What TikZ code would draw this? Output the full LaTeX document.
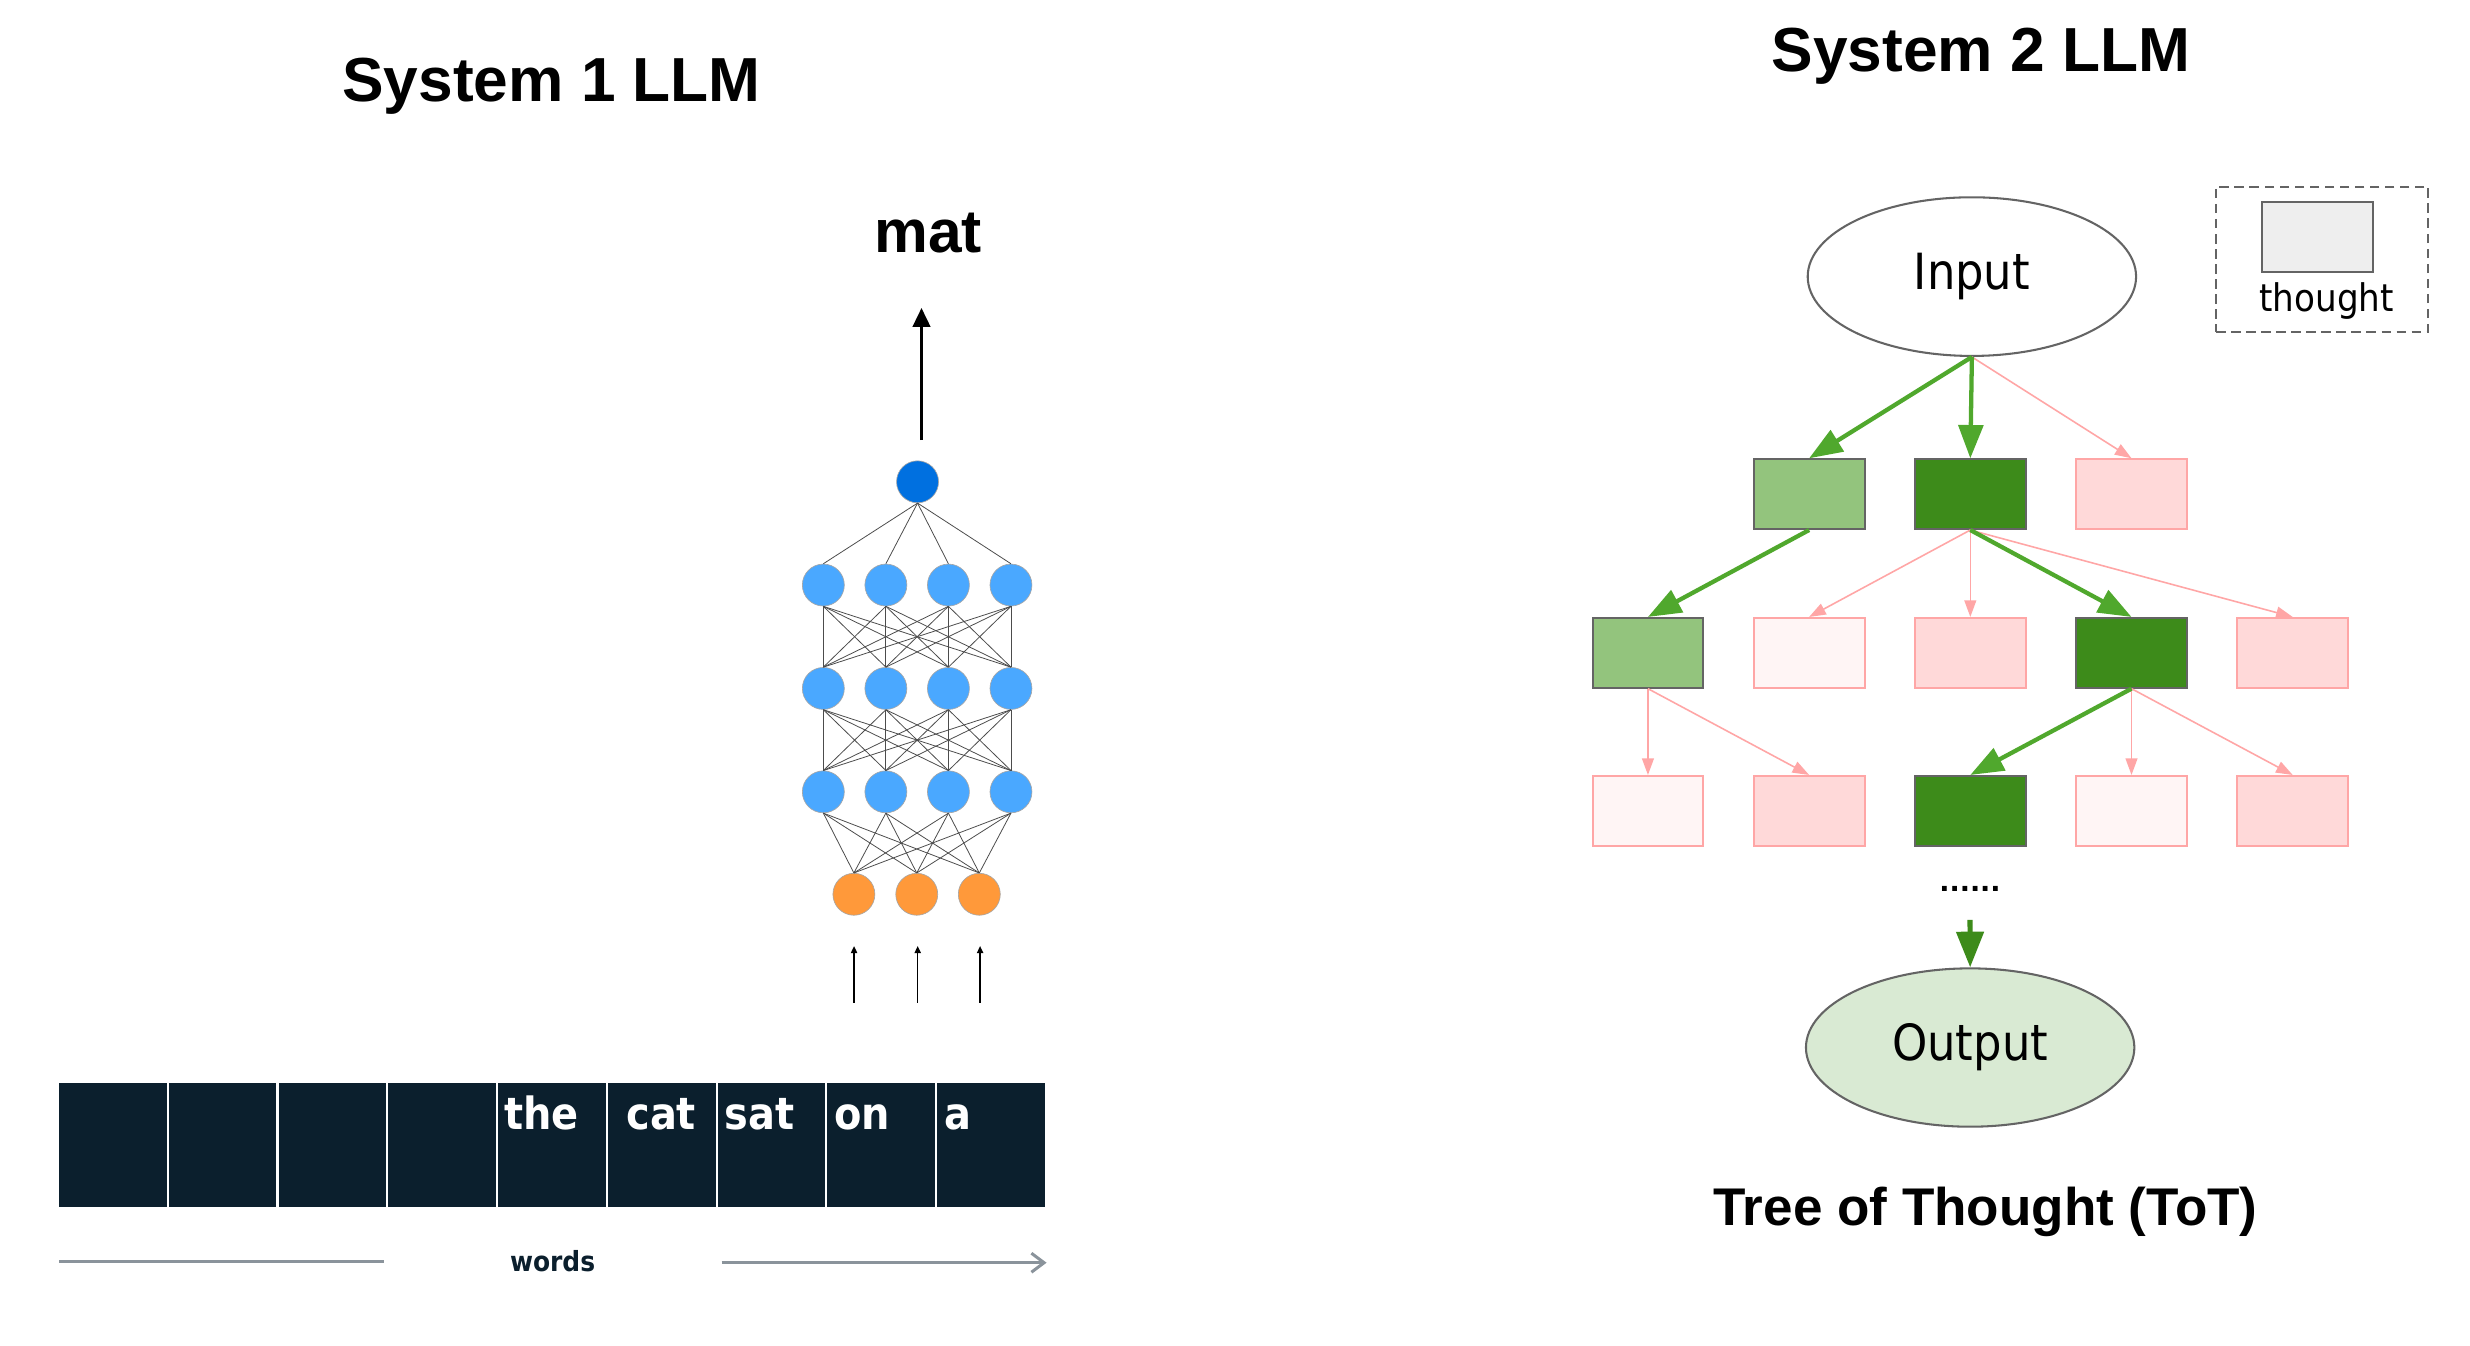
\documentclass[tikz,border=0pt]{standalone}
\usepackage{fontspec}
\setmainfont{Liberation Sans}
\newfontfamily\dvs[FakeStretch=0.9]{DejaVu Sans}
\newfontfamily\dvsplain{DejaVu Sans}
\newfontfamily\dvsbold[FakeStretch=0.9]{DejaVu Sans Bold}
\usetikzlibrary{arrows.meta,shapes.geometric}
\definecolor{navy}{RGB}{11,31,45}
\definecolor{nnblue}{RGB}{74,168,255}
\definecolor{nntop}{RGB}{0,112,224}
\definecolor{nnorange}{RGB}{255,153,58}
\definecolor{lgreen}{RGB}{147,196,125}
\definecolor{dgreen}{RGB}{61,139,26}
\definecolor{agreen}{RGB}{80,168,45}
\definecolor{pinkfill}{RGB}{255,217,217}
\definecolor{palepink}{RGB}{255,245,245}
\definecolor{pinkline}{RGB}{255,166,166}
\definecolor{outfill}{RGB}{217,234,211}
\definecolor{legfill}{RGB}{238,238,238}
\definecolor{bordergray}{RGB}{100,100,100}
\definecolor{axisgray}{RGB}{138,147,155}
\begin{document}
\begin{tikzpicture}[x=1pt,y=-1pt,
  neuron/.style={circle, minimum size=26.5pt, inner sep=0pt, draw=gray!70, line width=0.4pt},
  nnedge/.style={draw=black!70, line width=0.5pt},
  bigarrow/.style={draw=black, line width=2pt, -{Triangle[length=12pt,width=11pt]}},
  smallarrow/.style={draw=black, line width=0.85pt, -{Triangle[length=4.5pt,width=4pt]}},
  cell/.style={rectangle, fill=navy, draw=white, line width=1.3pt, minimum width=69.33pt, minimum height=79.3pt, inner sep=0pt},
  wordlabel/.style={anchor=base west, text=white, font=\dvsbold\fontsize{28}{28}\selectfont, inner sep=0pt},
  axisline/.style={draw=axisgray, line width=1.9pt},
  title/.style={anchor=base, inner sep=0pt, font=\fontsize{39.3}{40}\selectfont\bfseries},
  thoughtbox/.style={rectangle, minimum width=70pt, minimum height=44pt, inner sep=0pt, line width=1.3pt},
  gbox/.style={thoughtbox, fill=lgreen, draw=bordergray},
  dbox/.style={thoughtbox, fill=dgreen, draw=bordergray},
  pbox/.style={thoughtbox, fill=pinkfill, draw=pinkline},
  wbox/.style={thoughtbox, fill=palepink, draw=pinkline},
  ioell/.style={ellipse, draw=bordergray, line width=1.3pt, inner sep=0pt, font=\dvs\fontsize{31.5}{31.5}\selectfont},
  greenedge/.style={draw=agreen, line width=2.7pt, -{Triangle[length=21pt,width=15.5pt]}},
  pinkedge/.style={draw=pinkline, line width=1pt, -{Triangle[length=10.5pt,width=7.5pt]}},
  outarrow/.style={draw=dgreen, line width=3.2pt, -{Triangle[length=22.5pt,width=17pt]}}
]
\path[use as bounding box, fill=white] (0,0) rectangle (1560,850);

% ---------------- System 1 ----------------
\node[title] (title1) at (348.4,64.2) {System 1 LLM};
\node[title, font=\fontsize{38.2}{40}\selectfont\bfseries] (mat) at (586.3,159.5) {mat};

\node[neuron, fill=nntop] (top) at (579.5,304.3) {};
\foreach \i/\x in {1/520,2/559.5,3/599,4/638.5} {
  \node[neuron, fill=nnblue] (a\i) at (\x,369.5) {};
  \node[neuron, fill=nnblue] (b\i) at (\x,434.8) {};
  \node[neuron, fill=nnblue] (c\i) at (\x,500.1) {};
}
\foreach \i/\x in {1/539.3,2/579,3/618.5}
  \node[neuron, fill=nnorange] (d\i) at (\x,564.8) {};

\foreach \i in {1,...,4} \draw[nnedge] (top.south) -- (a\i.north);
\foreach \i in {1,...,4} \foreach \j in {1,...,4} {
  \draw[nnedge] (a\i.south) -- (b\j.north);
  \draw[nnedge] (b\i.south) -- (c\j.north);
}
\foreach \i in {1,...,4} \foreach \j in {1,2,3} \draw[nnedge] (c\i.south) -- (d\j.north);

\coordinate (upstart) at (582,278);
\coordinate (upend) at (582,194.5);
\draw[bigarrow] (upstart) -- (upend);

\foreach \j/\x in {1/539.4,2/579.6,3/619} {
  \coordinate (s\j) at (\x,633.3);
  \coordinate (e\j) at (\x,597.5);
  \draw[smallarrow] (s\j) -- (e\j);
}

\foreach \i in {0,...,8}
  \node[cell] (w\i) at ({71.27+\i*69.33},723) {};
\node[wordlabel] (lthe) at (318.4,713.3) {the};
\node[wordlabel] (lcat) at (395.4,713.3) {cat};
\node[wordlabel] (lsat) at (457.3,713.3) {sat};
\node[wordlabel] (lon)  at (526.8,713.3) {on};
\node[wordlabel] (la)   at (596.5,713.3) {a};

\coordinate (ax0) at (37.3,796.5);
\coordinate (ax1) at (242.5,796.5);
\coordinate (ax2) at (455.8,797.5);
\coordinate (ax3) at (661,797.5);
\draw[axisline] (ax0) -- (ax1);
\draw[axisline, -{Straight Barb[length=8pt,width=12pt,line width=1.9pt]}] (ax2) -- (ax3);
\node[anchor=base, inner sep=0pt, text=navy, font=\dvsbold\fontsize{17.5}{18}\selectfont] (words) at (349,803.2) {words};

% ---------------- System 2 ----------------
\node[title] (title2) at (1251.1,45.3) {System 2 LLM};

\node[ioell, fill=white, minimum width=207.4pt, minimum height=100.2pt] (input) at (1245.4,174.7) {Input};

\node[gbox] (p1) at (1142.6,312.1) {};
\node[dbox] (p2) at (1244.4,312.1) {};
\node[pbox] (p3) at (1346.2,312.1) {};

\node[gbox] (q1) at (1040.8,412.3) {};
\node[wbox] (q2) at (1142.6,412.3) {};
\node[pbox] (q3) at (1244.4,412.3) {};
\node[dbox] (q4) at (1346.2,412.3) {};
\node[pbox] (q5) at (1448,412.3) {};

\node[wbox] (r1) at (1040.8,512.1) {};
\node[pbox] (r2) at (1142.6,512.1) {};
\node[dbox] (r3) at (1244.4,512.1) {};
\node[wbox] (r4) at (1346.2,512.1) {};
\node[pbox] (r5) at (1448,512.1) {};

\draw[pinkedge] (input.south) -- (p3.north);
\draw[greenedge] (input.south) -- (p1.north);
\draw[greenedge] (input.south) -- (p2.north);

\draw[pinkedge] (p2.south) -- (q2.north);
\draw[pinkedge] (p2.south) -- (q3.north);
\draw[pinkedge] (p2.south) -- (q5.north);
\draw[greenedge] (p2.south) -- (q4.north);
\draw[greenedge] (p1.south) -- (q1.north);

\draw[pinkedge] (q1.south) -- (r1.north);
\draw[pinkedge] (q1.south) -- (r2.north);
\draw[pinkedge] (q4.south) -- (r4.north);
\draw[pinkedge] (q4.south) -- (r5.north);
\draw[greenedge] (q4.south) -- (r3.north);

\node[anchor=base, inner sep=0pt, font=\dvsplain\bfseries\fontsize{17}{17}\selectfont] (dots) at (1244.2,563.2) {......};

\node[ioell, fill=outfill, minimum width=207.4pt, minimum height=100pt] (output) at (1244.3,661.6) {Output};
\coordinate (outstart) at (1244.2,581);
\draw[outarrow] (outstart) -- (output.north);

\node[anchor=base, inner sep=0pt, font=\fontsize{33.5}{34}\selectfont\bfseries] (tot) at (1254,774) {Tree of Thought (ToT)};

% legend
\node[rectangle, draw=bordergray, line width=1.3pt, dash pattern=on 6pt off 3.5pt, minimum width=134pt, minimum height=91.6pt, inner sep=0pt] (legend) at (1466.6,163.7) {};
\node[thoughtbox, fill=legfill, draw=bordergray] (legsq) at (1463.7,149.8) {};
\node[anchor=base, inner sep=0pt, font=\dvs\fontsize{24}{24}\selectfont] (legtxt) at (1469.4,197) {thought};
\end{tikzpicture}
\end{document}
